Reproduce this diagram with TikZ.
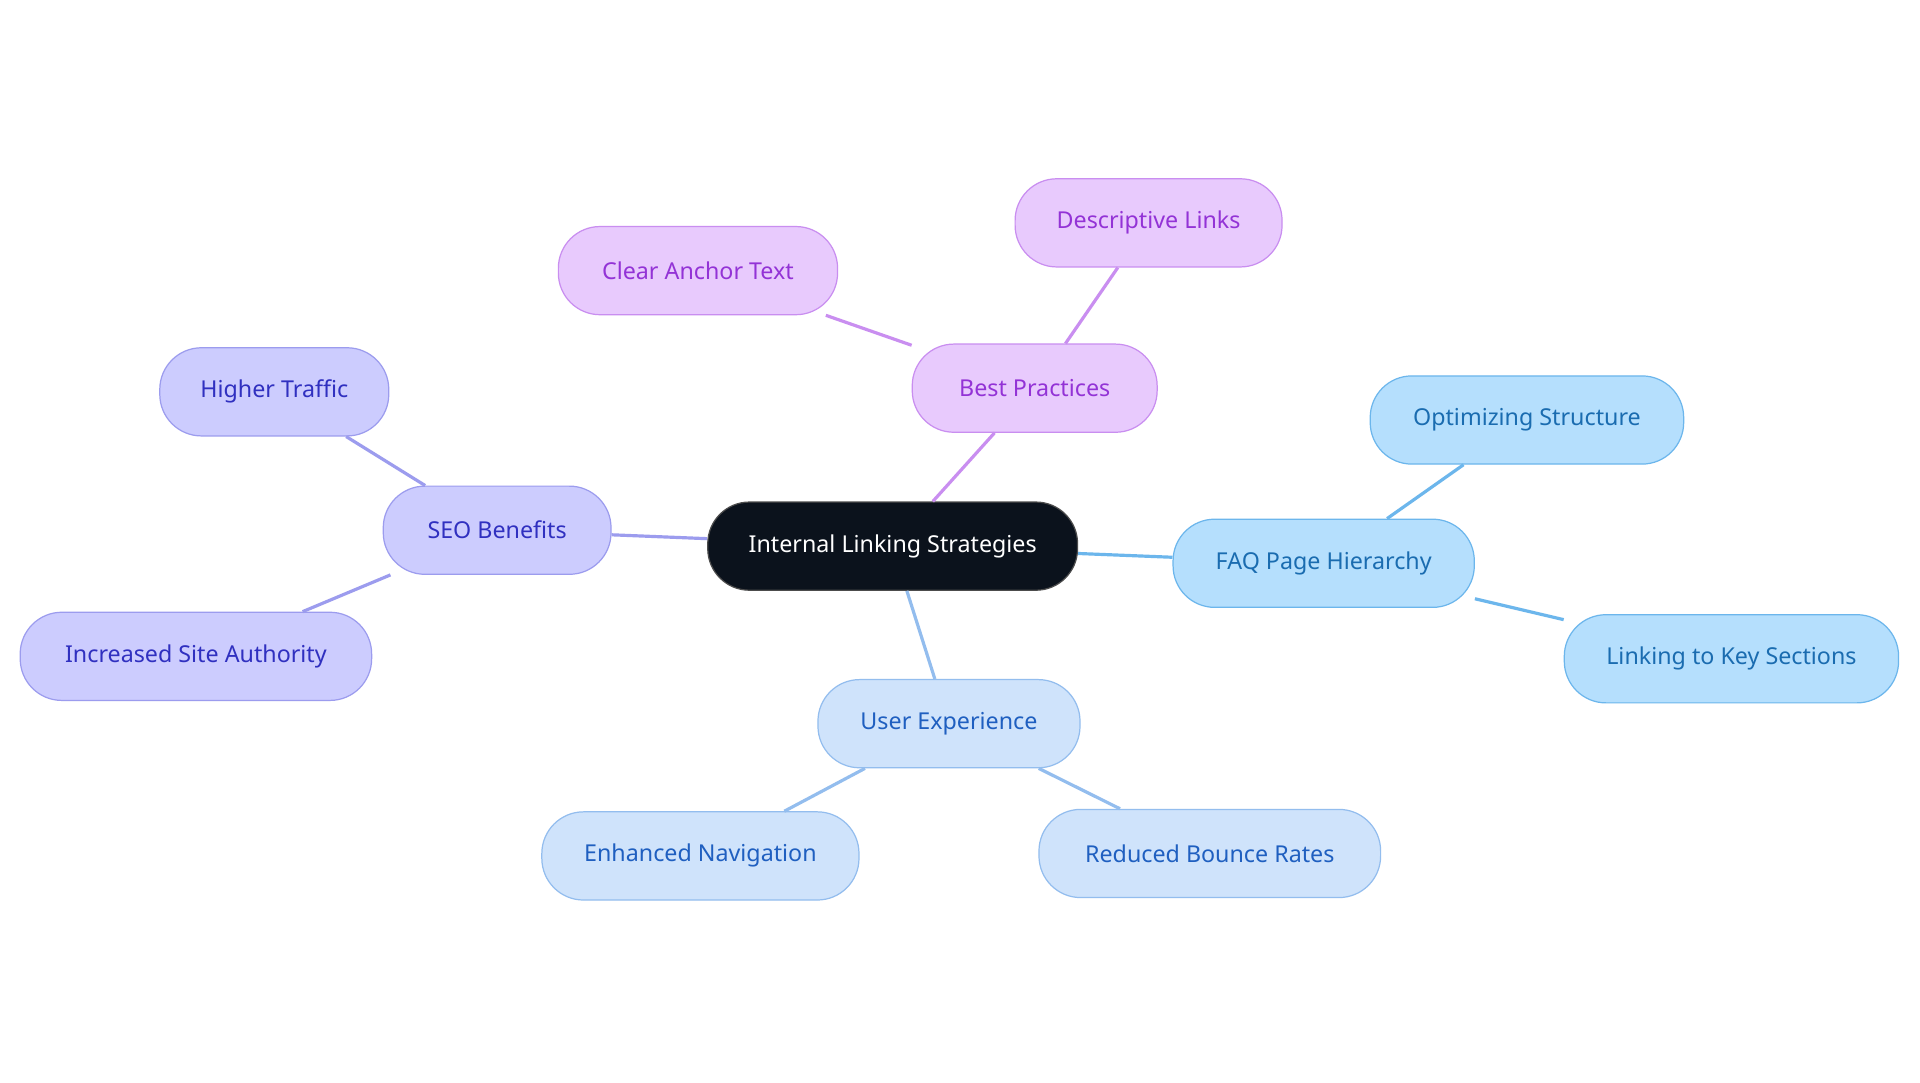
\documentclass[tikz,border=0pt]{standalone}
\usepackage{fontspec}
\setmainfont{Noto Sans}
\definecolor{rootf}{HTML}{0B121C}
\definecolor{pf}{HTML}{E8CAFD}\definecolor{pd}{HTML}{C98EF0}\definecolor{pt}{HTML}{9333D6}
\definecolor{sf}{HTML}{CCCCFE}\definecolor{sd}{HTML}{9C9CEE}\definecolor{st}{HTML}{3030C0}
\definecolor{ff}{HTML}{B5DFFD}\definecolor{fd}{HTML}{6CB6EC}\definecolor{ft}{HTML}{1A6CB0}
\definecolor{uf}{HTML}{CFE3FB}\definecolor{ud}{HTML}{93BDEE}\definecolor{ut}{HTML}{1F5FC0}
\tikzset{
 b/.style={rounded corners=34pt,minimum height=72pt,inner xsep=0pt,line width=1pt,font=\fontsize{19pt}{22pt}\selectfont},
 P/.style={b,fill=pf,draw=pd,text=pt},
 S/.style={b,fill=sf,draw=sd,text=st},
 F/.style={b,fill=ff,draw=fd,text=ft},
 U/.style={b,fill=uf,draw=ud,text=ut},
 e/.style={line width=2.6pt}
}
\begin{document}
\begin{tikzpicture}[x=1pt,y=-1pt]
\useasboundingbox (0,0) rectangle (1568,884);
\fill[white] (0,0) rectangle (1568,884);
\node[b,fill=rootf,draw=black!70,text=white,minimum width=302pt] (r) at (729,446) {Internal Linking Strategies};
\node[P,minimum width=200pt] (bp) at (845,317) {Best Practices};
\node[P,minimum width=228pt] (ca) at (570,221) {Clear Anchor Text};
\node[P,minimum width=218pt] (dl) at (938,182) {Descriptive Links};
\node[S,minimum width=186pt] (seo) at (406,433) {SEO Benefits};
\node[S,minimum width=187pt] (ht) at (224,320) {Higher Traffic};
\node[S,minimum width=287pt] (isa) at (160,536) {Increased Site Authority};
\node[F,minimum width=246pt] (faq) at (1081,460) {FAQ Page Hierarchy};
\node[F,minimum width=256pt] (os) at (1247,343) {Optimizing Structure};
\node[F,minimum width=273pt] (lk) at (1414,538) {Linking to Key Sections};
\node[U,minimum width=214pt] (ux) at (775,591) {User Experience};
\node[U,minimum width=259pt] (en) at (572,699) {Enhanced Navigation};
\node[U,minimum width=279pt] (rb) at (988,697) {Reduced Bounce Rates};
\begin{scope}[on background layer/.style={}]
\end{scope}
\begin{pgfonlayer}{main}\end{pgfonlayer}
\draw[e,pd] (r) -- (bp); \draw[e,pd] (bp) -- (ca); \draw[e,pd] (bp) -- (dl);
\draw[e,sd] (r) -- (seo); \draw[e,sd] (seo) -- (ht); \draw[e,sd] (seo) -- (isa);
\draw[e,fd] (r) -- (faq); \draw[e,fd] (faq) -- (os); \draw[e,fd] (faq) -- (lk);
\draw[e,ud] (r) -- (ux); \draw[e,ud] (ux) -- (en); \draw[e,ud] (ux) -- (rb);
\end{tikzpicture}
\end{document}
